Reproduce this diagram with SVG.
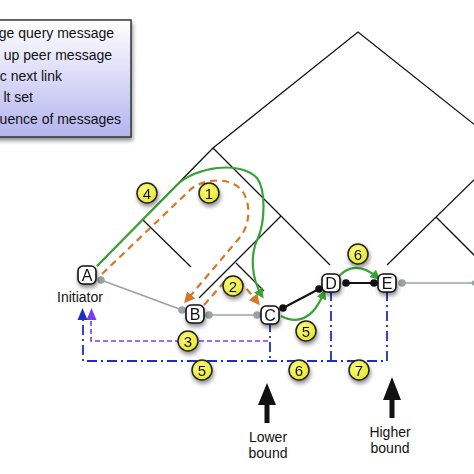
<svg xmlns="http://www.w3.org/2000/svg" width="474" height="474" viewBox="0 0 474 474">
<defs>
<style>
.t{font-family:"Liberation Sans",Arial,sans-serif;font-size:14px;fill:#111}
.lg{font-family:"Liberation Sans",Arial,sans-serif;font-size:14px;fill:#111;text-anchor:end}
.tree{stroke:#111;stroke-width:1.3;fill:none}
.node rect{fill:#fff;stroke:#111;stroke-width:1.6}
.node text{font-family:"Liberation Sans",Arial,sans-serif;font-size:16px;text-anchor:middle;fill:#111}
.gdot{fill:#9aa3a3}
.bdot{fill:#111}
.num circle{fill:url(#yg);stroke:#222;stroke-width:1.5}
.num text{font-family:"Liberation Sans",Arial,sans-serif;font-size:15px;text-anchor:middle;fill:#111}
.green{stroke:#3aa335;stroke-width:2.2;fill:none}
.orange{stroke:#d4782a;stroke-width:2.2;fill:none;stroke-dasharray:7 5}
.blue{stroke:#1e2fbf;stroke-width:1.8;fill:none;stroke-dasharray:10 4 2 4}
.purple{stroke:#7a3cf0;stroke-width:1.6;fill:none;stroke-dasharray:5 3}
</style>
<linearGradient id="lgbg" x1="0" y1="0" x2="0" y2="1">
<stop offset="0" stop-color="#ffffff"/>
<stop offset="1" stop-color="#b4b4f0"/>
</linearGradient>
<radialGradient id="yg" cx="0.4" cy="0.35" r="0.7">
<stop offset="0" stop-color="#fbfb80"/>
<stop offset="1" stop-color="#e6e62a"/>
</radialGradient>
<filter id="sh" x="-50%" y="-50%" width="200%" height="200%">
<feGaussianBlur in="SourceAlpha" stdDeviation="2"/>
<feOffset dx="1" dy="3" result="b"/>
<feComponentTransfer><feFuncA type="linear" slope="0.45"/></feComponentTransfer>
<feMerge><feMergeNode/><feMergeNode in="SourceGraphic"/></feMerge>
</filter>
<marker id="ag" markerWidth="10" markerHeight="10" refX="7" refY="5" orient="auto" markerUnits="userSpaceOnUse">
<path d="M0,0 L10,5 L0,10 Z" fill="#3aa335"/>
</marker>
<marker id="ao" markerWidth="11" markerHeight="11" refX="8" refY="5.5" orient="auto" markerUnits="userSpaceOnUse">
<path d="M0,0 L11,5.5 L0,11 Z" fill="#d4782a"/>
</marker>
</defs>
<rect width="474" height="474" fill="#fff"/>

<g id="legend">
<rect x="-5" y="20" width="136" height="117" fill="url(#lgbg)" stroke="#333" stroke-width="1.5" filter="url(#sh)"/>
<text class="lg" x="114" y="38">ge query message</text>
<text class="lg" x="112" y="60">up peer message</text>
<text class="lg" x="62" y="81">c next link</text>
<text class="lg" x="33" y="102">lt set</text>
<text class="lg" x="121" y="124">uence of messages</text>
</g>

<g id="tree">
<path class="tree" d="M480,129 L358,32 L213,148 L97,266"/>
<path class="tree" d="M213,148 L330,265"/>
<path class="tree" d="M143,220 L191,267"/>
<path class="tree" d="M281,216 L199,298"/>
<path class="tree" d="M236,263 L264,291"/>
<path class="tree" d="M480,174 L387,265"/>
<path class="tree" d="M436,217 L480,261"/>
</g>

<g id="connectors">
<line x1="101" y1="280" x2="182" y2="310" stroke="#9aa3a3" stroke-width="1.5"/>
<line x1="209" y1="315" x2="257" y2="315" stroke="#9aa3a3" stroke-width="1.5"/>
<line x1="402" y1="283" x2="474" y2="283" stroke="#9aa3a3" stroke-width="1.5"/>
<line x1="283" y1="308" x2="319" y2="289" stroke="#111" stroke-width="2"/>
<line x1="346" y1="283" x2="374" y2="283" stroke="#111" stroke-width="2"/>
<circle class="gdot" cx="101" cy="280" r="3.8"/>
<circle class="gdot" cx="182" cy="310" r="3.8"/>
<circle class="gdot" cx="209" cy="315" r="3.8"/>
<circle class="gdot" cx="257" cy="315" r="3.8"/>
<circle class="gdot" cx="402" cy="283" r="3.8"/>
<circle class="gdot" cx="474" cy="283" r="2.5"/>
<circle class="bdot" cx="283" cy="308" r="3.8"/>
<circle class="bdot" cx="319" cy="289" r="3.8"/>
<circle class="bdot" cx="346" cy="283" r="3.8"/>
<circle class="bdot" cx="374" cy="283" r="3.8"/>

<path class="orange" d="M102,274 L190,190 C203,178 232,176 243,192 C250,203 251,222 241,236 L186,301" marker-end="url(#ao)"/>
<path class="orange" d="M204,305 L226,280 Q234,272 242,283 L258,303" marker-end="url(#ao)"/>
<path class="green" d="M97,266 L177,185 C195,167 240,160 257,178 C266,190 265,222 258,238 C250,254 251,278 262,296" marker-end="url(#ag)"/>
<path class="green" d="M281,316 C296,324 313,321 324,292" marker-end="url(#ag)"/>
<path class="green" d="M339,276 Q356,259 378,278" marker-end="url(#ag)"/>

<path class="purple" d="M268,341 L91,341 L91,318"/>
<polygon points="86.5,320 91.5,308 96.5,320" fill="#7a3cf0"/>
<path class="blue" d="M270,322 L270,361"/>
<path class="blue" d="M331,291 L331,361"/>
<path class="blue" d="M387,291 L387,361 L83,361 L83,318"/>
<polygon points="77.5,320 82.5,308 87.5,320" fill="#1e2fbf"/>

<g id="bounds">
<rect x="264.5" y="402" width="5" height="21" fill="#111"/>
<polygon points="258,405 267,383 276,405" fill="#111"/>
<rect x="389.5" y="396" width="5" height="22" fill="#111"/>
<polygon points="383,400 392,377 401,400" fill="#111"/>
</g>
</g>

<g id="A" class="node" filter="url(#sh)"><rect x="78" y="266" width="18" height="18" rx="5"/><text x="87" y="281">A</text></g>
<g id="B" class="node" filter="url(#sh)"><rect x="186" y="305" width="18" height="18" rx="5"/><text x="195" y="320">B</text></g>
<g id="C" class="node" filter="url(#sh)"><rect x="261" y="306" width="18" height="18" rx="5"/><text x="270" y="321">C</text></g>
<g id="D" class="node" filter="url(#sh)"><rect x="322" y="274" width="18" height="18" rx="5"/><text x="331" y="289">D</text></g>
<g id="E" class="node" filter="url(#sh)"><rect x="378" y="274" width="18" height="18" rx="5"/><text x="387" y="289">E</text></g>

<g id="labels">
<g class="num" filter="url(#sh)"><circle cx="147" cy="193" r="10"/><text x="147" y="198.5">4</text></g>
<g class="num" filter="url(#sh)"><circle cx="209" cy="193" r="10"/><text x="209" y="198.5">1</text></g>
<g class="num" filter="url(#sh)"><circle cx="233" cy="286" r="10"/><text x="233" y="291.5">2</text></g>
<g class="num" filter="url(#sh)"><circle cx="188" cy="341" r="10"/><text x="188" y="346.5">3</text></g>
<g class="num" filter="url(#sh)"><circle cx="306" cy="331" r="10"/><text x="306" y="336.5">5</text></g>
<g class="num" filter="url(#sh)"><circle cx="358" cy="254" r="10"/><text x="358" y="259.5">6</text></g>
<g class="num" filter="url(#sh)"><circle cx="202" cy="370" r="10"/><text x="202" y="375.5">5</text></g>
<g class="num" filter="url(#sh)"><circle cx="299" cy="370" r="10"/><text x="299" y="375.5">6</text></g>
<g class="num" filter="url(#sh)"><circle cx="359" cy="370" r="10"/><text x="359" y="375.5">7</text></g>
</g>

<text class="t" x="80" y="302" text-anchor="middle">Initiator</text>
<text class="t" x="268" y="442" text-anchor="middle">Lower</text>
<text class="t" x="268" y="458" text-anchor="middle">bound</text>
<text class="t" x="390" y="437" text-anchor="middle">Higher</text>
<text class="t" x="390" y="453" text-anchor="middle">bound</text>
</svg>
